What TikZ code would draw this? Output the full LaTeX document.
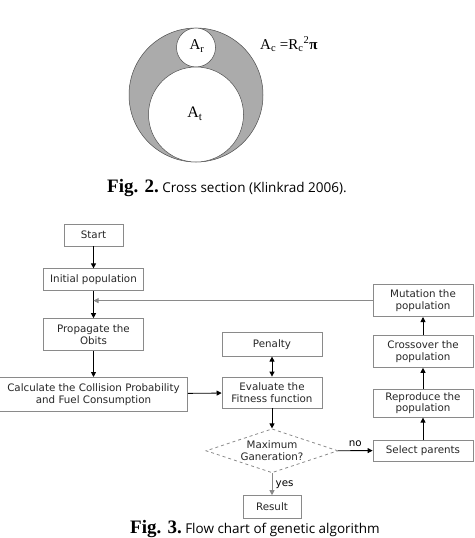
\documentclass[tikz,border=0pt]{standalone}
\usepackage{fontspec}
\setmainfont{Liberation Serif}
\newfontfamily\flowfont{DejaVu Sans}
\newfontfamily\capfont{Open Sans}
\usetikzlibrary{positioning,shapes.geometric,arrows.meta}
\definecolor{ringgray}{HTML}{ABABAB}
\definecolor{boxline}{HTML}{8A8A8A}
\tikzset{
  box/.style={draw=boxline, line width=0.8pt, inner sep=1pt, align=center,
    minimum width=100pt, font=\flowfont\fontsize{10.3}{11.8}\selectfont, text=black!85},
  flow/.style={-{Triangle[length=5pt,width=5pt]}, line width=0.8pt},
  capfig/.style={anchor=base west, inner sep=0pt}
}
\begin{document}
\begin{tikzpicture}[x=1pt,y=-1pt]
  \useasboundingbox (0,0) rectangle (474,538);

  \fill[ringgray] (196,95) circle (67pt);
  \draw[black!70, line width=0.5pt] (196,95) circle (67pt);
  \filldraw[fill=white, draw=black!70, line width=0.5pt] (196,47.5) circle (19.5pt);
  \filldraw[fill=white, draw=black!70, line width=0.5pt] (196,114.5) circle (47.5pt);
  \node[font=\fontsize{15}{16}\selectfont] (ar) at (197,46) {A\textsubscript{r}};
  \node[font=\fontsize{16}{17}\selectfont] (at) at (195,114) {A\textsubscript{t}};
  \node[anchor=base west, inner sep=0pt, font=\fontsize{15}{16}\selectfont] (ac) at (260,49)
    {A\textsubscript{c} =R\textsubscript{c}\textsuperscript{2}\textbf{π}};
  \node[capfig] (f2) at (107,192)
    {{\fontsize{19}{20}\selectfont\bfseries Fig. 2.} {\capfont\fontsize{13.5}{15}\selectfont Cross section (Klinkrad 2006).}};

  \node[box, minimum width=59pt, minimum height=22pt] (st) at (93.5,235) {Start};
  \node[box, minimum height=22pt, below=22pt of st] (ip) {Initial population};
  \node[box, minimum height=32pt, below=27pt of ip] (pr) {Propagate the\\Obits};
  \node[box, minimum width=188pt, minimum height=34pt, below=26pt of pr] (cc)
    {Calculate the Collision Probability\\and Fuel Consumption};
  \node[box, minimum height=31pt] (ev) at (272,392.5) {Evaluate the\\Fitness function};
  \node[box, minimum height=24pt, above=20pt of ev] (pe) {Penalty};
  \node[box, diamond, dashed, inner sep=0pt, minimum width=132pt, minimum height=44pt,
    aspect=3, below=20pt of ev] (mg) {Maximum\\Ganeration?};
  \node[box, minimum width=58pt, minimum height=23pt, below=22pt of mg] (re) {Result};
  \node[box, minimum height=21pt] (sp) at (423,450.5) {Select parents};
  \node[box, minimum height=28pt, above=22pt of sp] (rp) {Reproduce the\\population};
  \node[box, minimum height=32pt, above=21pt of rp] (co) {Crossover the\\population};
  \node[box, minimum height=32pt, above=18pt of co] (mu) {Mutation the\\population};
  \coordinate (fb) at (ip.south |- mu.west);

  \draw[flow] (st) -- (ip);
  \draw[flow] (ip) -- (pr);
  \draw[flow] (pr) -- (cc);
  \draw[flow] (cc) -- (ev);
  \draw[{Triangle[length=5pt,width=5pt]}-{Triangle[length=5pt,width=5pt]}, line width=0.8pt] (pe) -- (ev);
  \draw[flow] (ev) -- (mg);
  \draw[flow, draw=boxline] (mg) -- node[right, font=\flowfont\fontsize{10.3}{11}\selectfont] {yes} (re);
  \draw[flow] (mg) -- node[above, font=\flowfont\fontsize{10.3}{11}\selectfont] {no} (sp);
  \draw[flow] (sp) -- (rp);
  \draw[flow] (rp) -- (co);
  \draw[flow] (co) -- (mu);
  \draw[flow, draw=boxline] (mu) -- (fb);

  \node[capfig] (f3) at (130,533)
    {{\fontsize{19}{20}\selectfont\bfseries Fig. 3.} {\capfont\fontsize{13.5}{15}\selectfont Flow chart of genetic algorithm}};
\end{tikzpicture}
\end{document}
